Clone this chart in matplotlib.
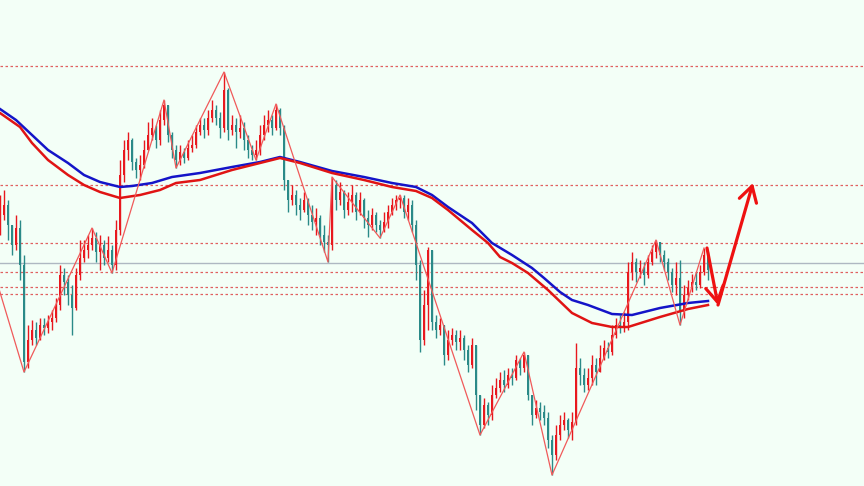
import numpy as np
import matplotlib
matplotlib.use("Agg")
import matplotlib.pyplot as plt

# prices are read as depth below a reference level (bigger = lower price)
TOP = 500.0

open0_d = 225
close_d = [
    215, 205, 225, 245, 228, 265, 362,
    340, 330, 338, 325, 328, 322, 318, 305, 275, 282, 295, 308, 275, 258, 250, 245, 238, 252, 245, 258, 250, 265, 230, 175, 150,
    140, 162, 170, 165, 150, 135, 128, 140, 120, 105, 135, 150, 160, 152, 158, 148, 145, 132, 125, 130, 118, 110, 118, 128, 90, 130, 125, 132, 128, 140, 150, 155, 150, 135,
    125, 120, 128, 110, 128, 180, 200, 195, 205, 210, 200, 215, 222, 218, 235, 242, 245, 185, 200, 192, 210, 202, 195, 212,
    200, 218, 225, 215, 225, 230, 222, 212, 205, 200, 198, 212, 205, 225, 265, 340, 305, 250, 322, 330, 325, 355, 340, 335, 342, 338, 350, 365, 345, 395,
    425, 405, 415, 395, 388, 380, 385, 375, 378, 360, 368, 355, 395, 415, 408, 412, 418, 440, 455, 435, 425, 420, 430, 422, 368, 375, 385, 378, 365, 372,
    358, 348, 352, 335, 325, 328, 322, 272, 262, 272, 268, 275, 262, 252, 242, 255, 262, 272, 285, 278, 312, 295, 288, 282, 285, 272, 255, 270,
]
high_d = [
    195, 190, 200, 225, 215, 220, 255,
    325, 320, 322, 318, 318, 315, 310, 298, 265, 268, 275, 285, 268, 240, 240, 235, 228, 232, 235, 240, 236, 245, 220, 160, 140,
    132, 138, 158, 155, 140, 122, 118, 125, 110, 100, 105, 132, 145, 145, 148, 140, 135, 125, 118, 118, 110, 100, 105, 112, 72, 88, 115, 118, 115, 122, 135, 145, 140, 125,
    115, 110, 115, 104, 108, 125, 180, 185, 190, 198, 192, 198, 205, 208, 215, 225, 235, 177, 180, 182, 190, 192, 185, 192,
    192, 198, 210, 208, 212, 220, 212, 205, 198, 195, 195, 195, 198, 200, 220, 260, 290, 247, 250, 315, 318, 325, 330, 328, 330, 330, 335, 345, 338, 345,
    398, 398, 402, 385, 378, 372, 370, 368, 368, 355, 358, 352, 355, 395, 400, 402, 405, 412, 435, 425, 415, 412, 418, 412, 343, 358, 368, 368, 355, 358,
    345, 340, 342, 325, 318, 315, 312, 262, 252, 258, 260, 262, 255, 245, 240, 243, 250, 258, 268, 262, 260, 285, 280, 274, 272, 265, 248, 252,
]
low_d = [
    235, 220, 240, 255, 250, 280, 372,
    368, 345, 345, 340, 335, 333, 330, 322, 310, 295, 305, 335, 310, 280, 262, 258, 250, 262, 270, 265, 262, 273, 270, 235, 182,
    160, 170, 178, 180, 168, 150, 140, 148, 145, 125, 142, 158, 168, 165, 163, 160, 152, 148, 135, 138, 135, 122, 125, 138, 132, 140, 135, 148, 138, 150, 158, 160, 160, 155,
    140, 132, 135, 130, 135, 190, 212, 205, 215, 220, 212, 225, 230, 235, 245, 252, 262, 250, 210, 205, 218, 215, 212, 220,
    215, 228, 237, 230, 232, 238, 232, 228, 215, 210, 208, 218, 220, 232, 280, 352, 345, 330, 330, 338, 335, 365, 360, 345, 350, 350, 360, 372, 368, 410,
    435, 428, 425, 420, 398, 392, 392, 388, 385, 380, 375, 372, 400, 425, 418, 420, 425, 448, 475, 460, 440, 430, 438, 440, 425, 385, 392, 390, 385, 385,
    368, 360, 358, 355, 338, 333, 332, 330, 280, 282, 278, 285, 278, 265, 258, 262, 270, 280, 292, 295, 325, 318, 300, 292, 290, 288, 275, 280,
]

# moving averages sampled along the bars
ma_blue_bars = [0, 4, 8, 12, 17, 21, 25, 30, 33, 38, 43, 50, 58, 65, 70, 75, 83, 91, 98, 104, 108, 112, 118, 123, 128, 133, 136, 140, 143, 147, 153, 158, 165, 172, 177]
ma_blue_d = [109, 120, 135, 150, 163, 175, 182, 187, 186, 183, 177, 173, 167, 162, 157, 162, 171, 177, 183, 187, 195, 207, 223, 243, 255, 268, 278, 292, 300, 305, 314, 315, 308, 303, 301]
ma_red_bars = [0, 5, 8, 12, 17, 21, 25, 30, 35, 40, 44, 50, 58, 65, 70, 75, 83, 91, 98, 104, 108, 112, 118, 122, 125, 128, 132, 137, 143, 148, 153, 157, 165, 172, 177]
ma_red_d = [113, 127, 143, 160, 175, 185, 192, 198, 195, 190, 183, 180, 170, 163, 158, 163, 173, 180, 187, 191, 198, 210, 230, 243, 257, 263, 273, 290, 313, 323, 327, 327, 317, 309, 305]

# zigzag pivots (bar index), alternating low / high
zz_lead = (-8, 186)
zz_bars = [6, 23, 28, 41, 44, 56, 64, 69, 82, 83, 95, 100, 120, 131, 138, 164, 170, 176]

# horizontal levels
red_levels_d = [66, 185, 243, 272, 287, 294]
gray_level_d = 263

# hand drawn forecast arrow
arrow_bars = [176.75, 179.5, 188.25]
arrow_d = [248, 305, 183]

to_price = lambda d: TOP - np.asarray(d, dtype=float)

close = to_price(close_d)
opens = np.concatenate([[to_price(open0_d)], close[:-1]])
high = np.maximum(to_price(high_d), np.maximum(opens, close))
low = np.minimum(to_price(low_d), np.minimum(opens, close))
x = np.arange(len(close))

UP = "#E8181E"
DOWN = "#2A8A88"

fig = plt.figure(figsize=(8.64, 4.86), dpi=100)
ax = fig.add_axes([0, 0, 1, 1])
ax.set_facecolor("#F3FFF7")
fig.patch.set_facecolor("#F3FFF7")

for lv in red_levels_d:
    ax.axhline(to_price(lv), color="#E06060", lw=0.9, ls=(0, (2, 2)), zorder=1)
ax.axhline(to_price(gray_level_d), color="#AEB8C2", lw=1.0, zorder=1)

up = close >= opens
cols = np.where(up, UP, DOWN)
ax.vlines(x, low, high, colors=cols, lw=1.0, zorder=2)
body_h = np.maximum(np.abs(close - opens), 1.5)
ax.bar(x, body_h, bottom=np.minimum(opens, close), width=0.72, color=cols, linewidth=0, zorder=3)

ax.plot(ma_blue_bars, to_price(ma_blue_d), color="#1414C8", lw=1.8, zorder=4, solid_joinstyle="round")
ax.plot(ma_red_bars, to_price(ma_red_d), color="#E01414", lw=1.8, zorder=4, solid_joinstyle="round")

zz_x = [zz_lead[0]]
zz_y = [to_price(zz_lead[1])]
for k, b in enumerate(zz_bars):
    zz_x.append(b)
    zz_y.append(low[b] if k % 2 == 0 else high[b])
ax.plot(zz_x, zz_y, color="#F05A5A", lw=0.9, zorder=5)

ay = to_price(arrow_d)
for k in range(len(arrow_bars) - 1):
    ax.annotate("", xy=(arrow_bars[k + 1], ay[k + 1]), xytext=(arrow_bars[k], ay[k]),
                arrowprops=dict(arrowstyle="->,head_length=0.55,head_width=0.32",
                                color="#EE1111", lw=2.3, mutation_scale=20,
                                shrinkA=0, shrinkB=0),
                zorder=6)

ax.set_xlim(0, 216)
ax.set_ylim(TOP - 486, TOP)
ax.axis("off")

fig.savefig("out.png", dpi=100, facecolor=fig.get_facecolor())
